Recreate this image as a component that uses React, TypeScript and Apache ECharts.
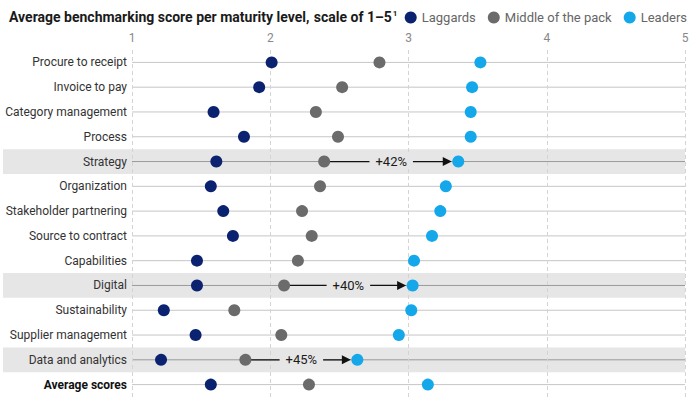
import React, { useEffect, useRef } from "react";
import * as echarts from "echarts";

const categories = [
  "Procure to receipt",
  "Invoice to pay",
  "Category management",
  "Process",
  "Strategy",
  "Organization",
  "Stakeholder partnering",
  "Source to contract",
  "Capabilities",
  "Digital",
  "Sustainability",
  "Supplier management",
  "Data and analytics",
  "Average scores",
];

const laggards = [2.01, 1.92, 1.59, 1.81, 1.61, 1.57, 1.66, 1.73, 1.47, 1.47, 1.23, 1.46, 1.21, 1.57];
const middle = [2.79, 2.52, 2.33, 2.49, 2.39, 2.36, 2.23, 2.3, 2.2, 2.1, 1.74, 2.08, 1.82, 2.28];
const leaders = [3.52, 3.46, 3.45, 3.45, 3.36, 3.27, 3.23, 3.17, 3.04, 3.03, 3.02, 2.93, 2.63, 3.14];

const highlighted = ["Strategy", "Digital", "Data and analytics"];
const highlightLabels = ["+42%", "+40%", "+45%"];

const xTicks = [1, 2, 3, 4, 5];

const COLORS = { laggards: "#0b2270", middle: "#6b6b6b", leaders: "#14a7ea" };
const FONT = "Roboto, 'Noto Sans', sans-serif";
const BAND = "#e6e6e6";

export default function App() {
  const ref = useRef<HTMLDivElement>(null);

  useEffect(() => {
    document.body.style.margin = "0";
    if (!ref.current) return;
    const chart = echarts.init(ref.current, undefined, { renderer: "svg" });
    const xMin = xTicks[0];
    const xMax = xTicks[xTicks.length - 1];

    const rowData = categories.map((c, i) => ({
      value: [xMax, i, highlighted.includes(c) ? 1 : 0],
    }));

    const arrowData = highlighted.map((c, k) => {
      const i = categories.indexOf(c);
      return { value: [middle[i], i, leaders[i], k] };
    });

    chart.setOption({
      animation: false,
      textStyle: { fontFamily: FONT },
      title: {
        left: 4,
        top: 3,
        text: "{b|Average benchmarking score per maturity level,} {n|scale of 1–5}{s|1}",
        textStyle: {
          rich: {
            b: { fontFamily: FONT, fontSize: 14, fontWeight: "bold", color: "#1a1a1a" },
            n: { fontFamily: FONT, fontSize: 14, color: "#1a1a1a" },
            s: { fontFamily: FONT, fontSize: 8, color: "#1a1a1a", padding: [0, 0, 7, 1] },
          },
        },
      },
      legend: {
        top: 6,
        right: 8,
        icon: "circle",
        itemWidth: 12,
        itemHeight: 12,
        itemGap: 12,
        textStyle: { color: "#666", fontSize: 13, fontFamily: FONT },
        data: ["Laggards", "Middle of the pack", "Leaders"],
      },
      grid: { left: 132, right: 15, top: 50, bottom: 7, containLabel: false },
      xAxis: {
        type: "value",
        position: "top",
        min: xMin,
        max: xMax,
        interval: 1,
        axisLine: { show: false },
        axisTick: { show: false },
        axisLabel: { color: "#888", fontSize: 12, margin: 6, fontFamily: FONT },
        splitLine: { show: true, lineStyle: { color: "#d4d4d4", type: [4, 3], width: 1 } },
      },
      yAxis: {
        type: "category",
        inverse: true,
        data: categories,
        axisLine: { show: false },
        axisTick: { show: false },
        splitLine: { show: false },
        axisLabel: {
          margin: 5,
          fontSize: 12,
          color: "#333",
          fontFamily: FONT,
          formatter: (v: string) => (v === "Average scores" ? `{bold|${v}}` : v),
          rich: { bold: { fontWeight: "bold", color: "#111", fontSize: 12, fontFamily: FONT } },
        },
      },
      series: [
        {
          type: "custom",
          z: -1,
          silent: true,
          clip: false,
          data: rowData,
          encode: { x: 0, y: 1 },
          renderItem: (params: any, api: any) => {
            const i = api.value(1);
            const shaded = api.value(2) === 1;
            const p1 = api.coord([xMin, i]);
            const p2 = api.coord([xMax, i]);
            const h = api.size([0, 1])[1];
            const children: any[] = [];
            if (shaded) {
              children.push({
                type: "rect",
                shape: { x: 3, y: p1[1] - h / 2, width: p2[0] - 3, height: h },
                style: { fill: BAND },
              });
            }
            children.push({
              type: "line",
              shape: { x1: p1[0], y1: p1[1], x2: p2[0], y2: p2[1] },
              style: { stroke: shaded ? "#9a9a9a" : "#c6c6c6", lineWidth: 1 },
            });
            return { type: "group", children };
          },
        },
        {
          type: "custom",
          z: 2,
          silent: true,
          clip: false,
          data: arrowData,
          encode: { x: [0, 2], y: 1 },
          renderItem: (params: any, api: any) => {
            const i = api.value(1);
            const a = api.coord([api.value(0), i]);
            const b = api.coord([api.value(2), i]);
            const k = api.value(3);
            const y = a[1];
            const tip = b[0] - 6.5;
            const head = 9;
            const mid = (a[0] + b[0]) / 2;
            return {
              type: "group",
              children: [
                {
                  type: "line",
                  shape: { x1: a[0], y1: y, x2: tip - head + 1, y2: y },
                  style: { stroke: "#111", lineWidth: 1.2 },
                },
                {
                  type: "polygon",
                  shape: { points: [[tip, y], [tip - head, y - 4.5], [tip - head, y + 4.5]] },
                  style: { fill: "#111" },
                },
                {
                  type: "text",
                  x: mid,
                  y: y,
                  style: {
                    text: highlightLabels[k],
                    x: 0,
                    y: 0,
                    align: "center",
                    verticalAlign: "middle",
                    fontSize: 13,
                    fontFamily: FONT,
                    fill: "#1a1a1a",
                    backgroundColor: BAND,
                    padding: [1, 6],
                  },
                },
              ],
            };
          },
        },
        {
          name: "Laggards",
          type: "scatter",
          symbolSize: 12,
          itemStyle: { color: COLORS.laggards, opacity: 1 },
          data: laggards.map((v, i) => [v, categories[i]]),
          z: 3,
        },
        {
          name: "Middle of the pack",
          type: "scatter",
          symbolSize: 12,
          itemStyle: { color: COLORS.middle, opacity: 1 },
          data: middle.map((v, i) => [v, categories[i]]),
          z: 3,
        },
        {
          name: "Leaders",
          type: "scatter",
          symbolSize: 12,
          itemStyle: { color: COLORS.leaders, opacity: 1 },
          data: leaders.map((v, i) => [v, categories[i]]),
          z: 4,
        },
      ],
    });

    return () => chart.dispose();
  }, []);

  return <div ref={ref} style={{ width: 700, height: 404 }} />;
}
